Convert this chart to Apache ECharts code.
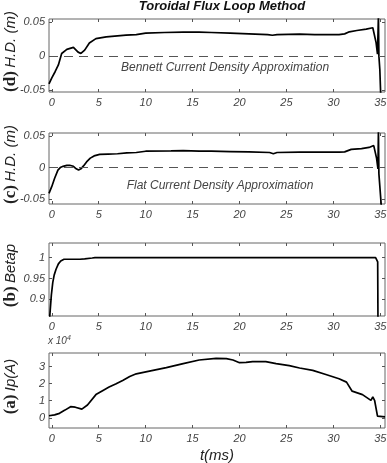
<!DOCTYPE html>
<html>
<head>
<meta charset="utf-8">
<script src="https://cdn.jsdelivr.net/npm/echarts@6/dist/echarts.min.js"></script>
<style>html,body{margin:0;padding:0;background:#fff;}#c{width:387px;height:463px;}</style>
</head>
<body>
<div id="c"></div>
<script>
// ---- data ----
const xTicks = [0, 5, 10, 15, 20, 25, 30, 35];

// (d) H.D. (m), Bennett current density approximation
const tD = [-0.3, 0, 0.35, 0.7, 1.05, 1.6, 2.3, 2.8, 3.1, 3.5, 4.0, 4.7, 5.8, 7.0, 7.9, 9.0, 10.0, 12.0, 14.0, 15.7, 17.0, 19.0, 21.0, 23.0, 23.5, 24.0, 26.4, 28.0, 30.6, 31.2, 31.7, 32.5, 33.5, 34.2, 34.4, 34.55, 34.7, 34.8, 34.85, 34.95, 35.05];
const hdBennett = [-0.041, -0.032, -0.023, -0.013, 0.004, 0.010, 0.013, 0.006, 0.004, 0.009, 0.0196, 0.026, 0.0285, 0.030, 0.031, 0.032, 0.034, 0.035, 0.0355, 0.0355, 0.035, 0.034, 0.033, 0.032, 0.031, 0.032, 0.0325, 0.032, 0.032, 0.033, 0.036, 0.038, 0.040, 0.042, 0.043, 0.02, 0.003, 0.06, 0.0, -0.02, -0.06];

// (c) H.D. (m), flat current density approximation
const tC = [-0.3, 0, 0.3, 0.65, 0.9, 1.2, 1.6, 1.9, 2.3, 2.6, 2.85, 3.1, 3.4, 3.7, 4.1, 4.5, 5.1, 6.0, 7.0, 8.0, 9.0, 10.0, 12.7, 14.0, 15.7, 17.0, 19.0, 21.0, 23.2, 23.6, 24.0, 26.4, 28.0, 30.6, 31.2, 31.9, 33.0, 33.8, 34.3, 34.45, 34.6, 34.75, 34.8, 34.85, 34.95, 35.1];
const hdFlat = [-0.041, -0.030, -0.017, -0.004, 0.0, 0.002, 0.0035, 0.0037, 0.002, -0.002, -0.004, -0.002, 0.003, 0.009, 0.015, 0.0185, 0.021, 0.0215, 0.022, 0.0235, 0.024, 0.026, 0.0265, 0.027, 0.026, 0.026, 0.0255, 0.025, 0.024, 0.022, 0.024, 0.0245, 0.0245, 0.0245, 0.025, 0.029, 0.030, 0.032, 0.035, 0.036, 0.015, -0.002, 0.06, -0.01, -0.03, -0.06];

// (b) Betap
const tB = [-0.25, -0.05, 0.1, 0.25, 0.45, 0.7, 0.95, 1.3, 2.0, 3.0, 3.5, 4.3, 4.6, 10, 20, 30, 34.5, 34.65, 34.72, 34.75];
const betap = [0.85, 0.91, 0.94, 0.958, 0.972, 0.985, 0.992, 0.996, 0.996, 0.996, 0.997, 0.999, 1.0, 1.0, 1.0, 1.0, 1.0, 0.997, 0.99, 0.85];

// (a) Ip (A), in units of 10^4
const tA = [-0.3, 0.3, 0.82, 1.4, 2.0, 2.5, 3.2, 3.8, 4.7, 5.5, 6.1, 6.8, 7.6, 8.3, 9.0, 10.4, 12.2, 14.0, 15.7, 17.5, 18.6, 19.3, 20.0, 20.7, 21.4, 22.8, 23.9, 25.3, 26.4, 27.8, 29.2, 30.6, 31.4, 32.0, 33.1, 34.0, 34.2, 34.4, 34.7, 35.5];
const ipE4 = [0.12, 0.17, 0.26, 0.45, 0.65, 0.62, 0.51, 0.75, 1.36, 1.62, 1.8, 1.98, 2.2, 2.42, 2.58, 2.74, 2.94, 3.18, 3.39, 3.49, 3.47, 3.39, 3.23, 3.25, 3.29, 3.29, 3.18, 3.06, 2.92, 2.78, 2.54, 2.29, 2.09, 1.56, 1.36, 1.02, 1.22, 1.0, 0.1, 0.05];

// panel labels
const panelTags = ['(d)', '(c)', '(b)', '(a)'];
const panelNames = ['H.D. (m)', 'H.D. (m)', 'Betap', 'Ip(A)'];

const zip = (xs, ys) => xs.map((x, i) => [x, ys[i]]);

// ---- styling helpers ----
const GRID_L = 49, GRID_W = 336;
const grids = [
  { top: 19, height: 73 },
  { top: 133, height: 71 },
  { top: 243, height: 73 },
  { top: 353, height: 75 }
];
const labelStyle = { fontFamily: 'Liberation Sans', fontStyle: 'italic', fontSize: 11, color: '#444' };
const tickStyle = { lineStyle: { color: '#555', width: 1 } };
const noLine = { show: false, onZero: false };

const xAxes = [], yAxes = [];
grids.forEach((g, i) => {
  xAxes.push({
    gridIndex: i, type: 'value', min: -0.3, max: 35.5, position: 'bottom',
    axisLine: noLine, splitLine: { show: false },
    axisTick: Object.assign({ show: true, inside: true, length: 3, customValues: xTicks }, tickStyle),
    axisLabel: Object.assign({ show: true, margin: 5, customValues: xTicks }, labelStyle),
    ...(i === 3 ? {
      name: 't(ms)', nameLocation: 'middle', nameGap: 20,
      nameTextStyle: { fontFamily: 'Liberation Sans', fontStyle: 'italic', fontSize: 15, color: '#222' }
    } : {})
  });
  xAxes.push({
    gridIndex: i, type: 'value', min: -0.3, max: 35.5, position: 'top',
    axisLine: noLine, splitLine: { show: false },
    axisTick: Object.assign({ show: true, inside: true, length: 3, customValues: xTicks }, tickStyle),
    axisLabel: { show: false }
  });
});

const yDefs = [
  { min: -0.053, max: 0.055, ticks: [-0.05, 0, 0.05] },
  { min: -0.058, max: 0.055, ticks: [-0.05, 0, 0.05] },
  { min: 0.86, max: 1.035, ticks: [0.9, 0.95, 1] },
  { min: -0.6, max: 3.8, ticks: [0, 1, 2, 3] }
];
yDefs.forEach((d, i) => {
  yAxes.push({
    gridIndex: i, type: 'value', min: d.min, max: d.max, position: 'left',
    axisLine: noLine, splitLine: { show: false },
    axisTick: Object.assign({ show: true, inside: true, length: 3, customValues: d.ticks }, tickStyle),
    axisLabel: Object.assign({ show: true, margin: 4, customValues: d.ticks, formatter: v => String(+v.toFixed(3)) }, labelStyle)
  });
  yAxes.push({
    gridIndex: i, type: 'value', min: d.min, max: d.max, position: 'right',
    axisLine: noLine, splitLine: { show: false },
    axisTick: Object.assign({ show: true, inside: true, length: 3, customValues: d.ticks }, tickStyle),
    axisLabel: { show: false }
  });
});

const lineStyle = { color: '#000', width: 1.7 };
const zeroLine = {
  silent: true, symbol: 'none', label: { show: false },
  lineStyle: { type: [9, 6], color: '#555', width: 1 },
  data: [{ yAxis: 0 }]
};

const yNameGraphics = grids.map((g, i) => ({
  type: 'text', x: 11, y: g.top + g.height / 2 - 4, rotation: Math.PI / 2,
  style: {
    text: '{a|' + panelTags[i] + '} {b|' + panelNames[i] + '}',
    align: 'center', verticalAlign: 'middle',
    rich: {
      a: { fontFamily: 'Liberation Serif', fontWeight: 'bold', fontSize: 17, fill: '#222' },
      b: { fontFamily: 'Liberation Sans', fontStyle: 'italic', fontSize: 15, fill: '#222' }
    }
  }
}));

const chart = echarts.init(document.getElementById('c'), null, { renderer: 'canvas' });
chart.setOption({
  animation: false,
  backgroundColor: '#fff',
  title: {
    text: 'Toroidal Flux Loop Method', left: 217, top: -5, textAlign: 'center',
    textStyle: { fontFamily: 'Liberation Sans', fontStyle: 'italic', fontWeight: 'bold', fontSize: 13, color: '#111' }
  },
  grid: grids.map(g => ({ left: GRID_L, width: GRID_W, top: g.top, height: g.height, show: true, borderColor: '#666', borderWidth: 1, backgroundColor: 'transparent', outerBoundsMode: 'none', containLabel: false })),
  xAxis: xAxes,
  yAxis: yAxes,
  series: [
    { name: 'Bennett', type: 'line', xAxisIndex: 0, yAxisIndex: 0, data: zip(tD, hdBennett), showSymbol: false, lineStyle, clip: true, markLine: zeroLine },
    { name: 'Flat', type: 'line', xAxisIndex: 2, yAxisIndex: 2, data: zip(tC, hdFlat), showSymbol: false, lineStyle, clip: true, markLine: zeroLine },
    { name: 'Betap', type: 'line', xAxisIndex: 4, yAxisIndex: 4, data: zip(tB, betap), showSymbol: false, lineStyle, clip: true },
    { name: 'Ip', type: 'line', xAxisIndex: 6, yAxisIndex: 6, data: zip(tA, ipE4), showSymbol: false, lineStyle, clip: true }
  ],
  graphic: yNameGraphics.concat([
    { type: 'text', x: 225, y: 68, style: { text: 'Bennett Current Density Approximation', align: 'center', verticalAlign: 'middle', font: 'italic 12px "Liberation Sans"', fill: '#444' } },
    { type: 'text', x: 220, y: 186, style: { text: 'Flat Current Density Approximation', align: 'center', verticalAlign: 'middle', font: 'italic 12px "Liberation Sans"', fill: '#444' } },
    { type: 'text', x: 48, y: 341, style: { text: '{m|x 10}{s|4}', verticalAlign: 'middle', rich: { m: { fontFamily: 'Liberation Sans', fontStyle: 'italic', fontSize: 10, fill: '#444' }, s: { fontFamily: 'Liberation Sans', fontStyle: 'italic', fontSize: 7, fill: '#444', verticalAlign: 'top', padding: [0, 0, 6, 0] } } } }
  ])
});
</script>
</body>
</html>
